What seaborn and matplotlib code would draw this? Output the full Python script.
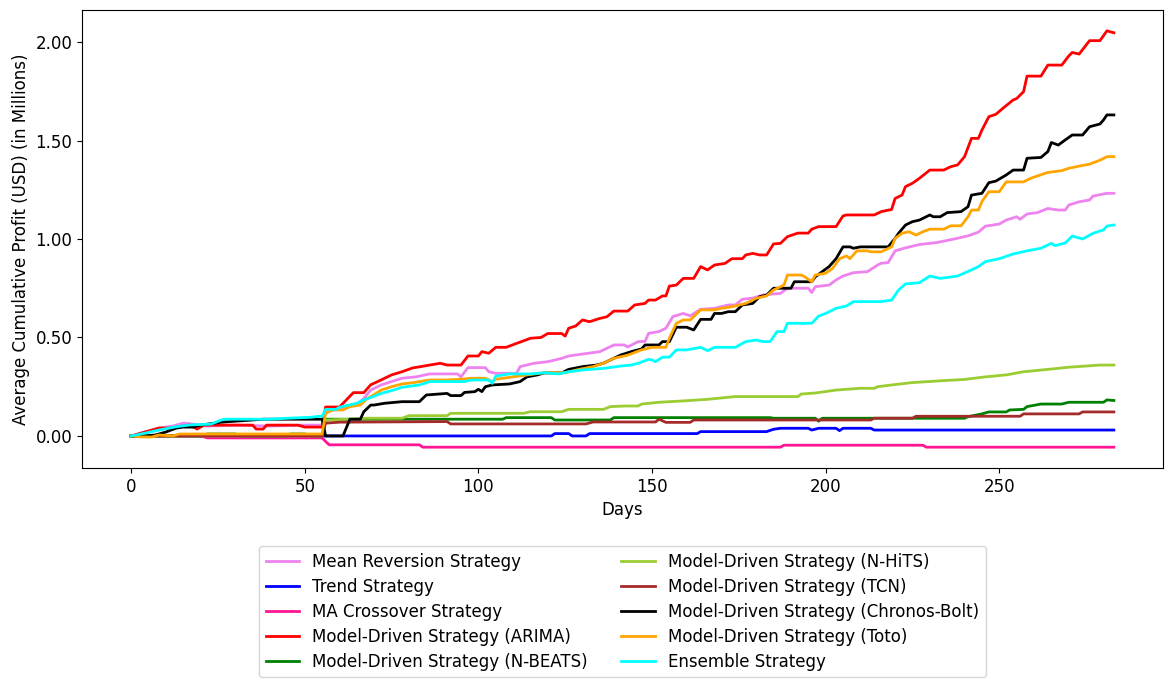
import matplotlib
matplotlib.use("Agg")
import matplotlib.pyplot as plt
import seaborn as sns
import pandas as pd
from matplotlib.ticker import StrMethodFormatter

# ---------------- data ----------------
mean_rev_days = [0, 4, 8, 12, 15, 18, 22, 30, 40, 50, 55, 56, 60, 65, 67, 69, 72, 75, 78, 82, 86, 94, 95, 97, 102, 103, 105, 111, 112, 116, 120, 124, 126, 130, 135, 139, 142, 143, 146, 148, 149, 152, 154, 156, 159, 161, 164, 168, 172, 174, 176, 179, 182, 185, 187, 189, 195, 196, 197, 201, 203, 205, 208, 212, 215, 216, 218, 220, 223, 227, 232, 237, 241, 244, 246, 250, 252, 255, 256, 258, 261, 264, 267, 269, 270, 273, 276, 277, 281, 283]
mean_rev_vals = [0, 0.02, 0.04, 0.05, 0.065, 0.06, 0.05, 0.055, 0.05, 0.055, 0.055, 0.12, 0.14, 0.16, 0.19, 0.233, 0.259, 0.276, 0.293, 0.30, 0.315, 0.315, 0.30, 0.347, 0.347, 0.326, 0.318, 0.318, 0.352, 0.369, 0.377, 0.394, 0.406, 0.416, 0.428, 0.462, 0.462, 0.452, 0.479, 0.48, 0.521, 0.53, 0.547, 0.606, 0.622, 0.61, 0.643, 0.648, 0.665, 0.665, 0.694, 0.70, 0.716, 0.721, 0.724, 0.75, 0.75, 0.728, 0.758, 0.766, 0.792, 0.812, 0.829, 0.834, 0.868, 0.877, 0.88, 0.94, 0.955, 0.972, 0.982, 1.0, 1.016, 1.035, 1.065, 1.076, 1.096, 1.113, 1.10, 1.127, 1.134, 1.155, 1.147, 1.147, 1.172, 1.189, 1.198, 1.218, 1.232, 1.232]

trend_days = [0, 121, 122, 126, 127, 131, 132, 163, 164, 183, 185, 187, 195, 196, 198, 203, 204, 205, 213, 214, 283]
trend_vals = [0, 0.0, 0.012, 0.012, 0.0, 0.0, 0.012, 0.012, 0.022, 0.022, 0.034, 0.039, 0.039, 0.03, 0.039, 0.039, 0.027, 0.039, 0.039, 0.03, 0.03]

ma_days = [0, 20, 22, 55, 57, 83, 84, 187, 188, 228, 229, 283]
ma_vals = [0, 0.0, -0.01, -0.01, -0.045, -0.045, -0.057, -0.057, -0.047, -0.047, -0.057, -0.057]

arima_days = [0, 4, 8, 11, 17, 19, 21, 35, 36, 38, 39, 48, 50, 55, 56, 60, 64, 67, 69, 71, 73, 75, 78, 81, 86, 89, 91, 95, 97, 100, 101, 103, 105, 108, 111, 115, 118, 120, 124, 125, 126, 128, 130, 132, 135, 137, 139, 143, 145, 148, 149, 151, 153, 154, 155, 157, 159, 162, 164, 166, 168, 171, 173, 176, 177, 179, 181, 183, 185, 187, 189, 192, 195, 196, 198, 203, 205, 206, 214, 216, 219, 220, 222, 223, 225, 227, 230, 234, 236, 238, 240, 242, 244, 245, 247, 249, 251, 254, 255, 257, 258, 262, 264, 268, 270, 271, 273, 276, 279, 281, 283]
arima_vals = [0, 0.02, 0.04, 0.04, 0.056, 0.035, 0.055, 0.055, 0.035, 0.035, 0.055, 0.055, 0.045, 0.045, 0.147, 0.147, 0.22, 0.22, 0.26, 0.276, 0.293, 0.31, 0.326, 0.345, 0.36, 0.369, 0.36, 0.36, 0.406, 0.406, 0.428, 0.42, 0.45, 0.45, 0.47, 0.496, 0.50, 0.52, 0.52, 0.507, 0.547, 0.558, 0.589, 0.58, 0.597, 0.605, 0.634, 0.634, 0.665, 0.673, 0.69, 0.69, 0.711, 0.711, 0.761, 0.766, 0.80, 0.80, 0.86, 0.843, 0.868, 0.876, 0.90, 0.90, 0.919, 0.927, 0.919, 0.919, 0.975, 0.978, 1.012, 1.03, 1.03, 1.05, 1.063, 1.063, 1.117, 1.122, 1.122, 1.139, 1.15, 1.206, 1.223, 1.266, 1.283, 1.308, 1.35, 1.35, 1.367, 1.376, 1.418, 1.511, 1.511, 1.553, 1.621, 1.633, 1.663, 1.706, 1.713, 1.748, 1.827, 1.827, 1.883, 1.883, 1.929, 1.947, 1.939, 2.007, 2.007, 2.057, 2.047]

nbeats_days = [0, 20, 22, 30, 32, 44, 46, 50, 52, 55, 56, 107, 108, 121, 122, 138, 139, 184, 185, 197, 198, 199, 240, 241, 245, 247, 252, 253, 257, 258, 262, 268, 270, 280, 281, 283]
nbeats_vals = [0, 0.0, 0.01, 0.01, 0.0, 0.0, 0.01, 0.01, 0.0, 0.0, 0.085, 0.085, 0.093, 0.093, 0.081, 0.081, 0.093, 0.093, 0.09, 0.09, 0.075, 0.09, 0.09, 0.098, 0.112, 0.122, 0.122, 0.132, 0.135, 0.149, 0.162, 0.162, 0.171, 0.171, 0.183, 0.18]

nhits_days = [0, 55, 56, 68, 78, 80, 91, 92, 113, 115, 124, 126, 136, 138, 142, 146, 147, 152, 160, 166, 174, 192, 193, 197, 203, 210, 214, 215, 219, 225, 234, 240, 246, 252, 257, 264, 270, 279, 283]
nhits_vals = [0, 0.0, 0.08, 0.09, 0.09, 0.103, 0.103, 0.115, 0.115, 0.123, 0.123, 0.135, 0.135, 0.149, 0.152, 0.152, 0.162, 0.171, 0.179, 0.186, 0.20, 0.20, 0.213, 0.218, 0.233, 0.242, 0.242, 0.25, 0.259, 0.271, 0.281, 0.287, 0.30, 0.31, 0.326, 0.338, 0.349, 0.36, 0.36]

tcn_days = [0, 55, 56, 60, 91, 92, 131, 133, 151, 152, 154, 161, 162, 213, 214, 225, 226, 256, 257, 273, 274, 283]
tcn_vals = [0, 0.0, 0.065, 0.07, 0.073, 0.061, 0.061, 0.071, 0.071, 0.085, 0.069, 0.069, 0.081, 0.081, 0.09, 0.09, 0.10, 0.10, 0.112, 0.112, 0.122, 0.122]

chronos_days = [0, 4, 7, 10, 13, 15, 18, 20, 26, 30, 38, 55, 56, 61, 63, 66, 67, 69, 70, 73, 78, 83, 85, 91, 92, 95, 96, 99, 100, 101, 102, 104, 109, 112, 114, 117, 119, 124, 126, 130, 134, 136, 138, 141, 144, 147, 148, 152, 153, 155, 157, 160, 162, 164, 167, 168, 170, 172, 174, 176, 179, 181, 183, 185, 190, 191, 196, 197, 199, 201, 203, 205, 207, 208, 210, 218, 220, 221, 223, 225, 227, 230, 231, 233, 235, 239, 241, 242, 245, 247, 249, 252, 254, 257, 258, 262, 264, 265, 267, 269, 271, 274, 276, 279, 280, 281, 283]
chronos_vals = [0, 0.0, 0.005, 0.02, 0.04, 0.045, 0.045, 0.055, 0.07, 0.075, 0.085, 0.085, 0.0, 0.0, 0.085, 0.085, 0.123, 0.157, 0.157, 0.166, 0.174, 0.174, 0.208, 0.216, 0.205, 0.205, 0.221, 0.225, 0.237, 0.225, 0.25, 0.259, 0.264, 0.276, 0.30, 0.31, 0.32, 0.32, 0.338, 0.352, 0.36, 0.369, 0.386, 0.411, 0.428, 0.442, 0.462, 0.462, 0.479, 0.479, 0.552, 0.552, 0.538, 0.592, 0.592, 0.622, 0.622, 0.631, 0.631, 0.665, 0.673, 0.707, 0.715, 0.75, 0.75, 0.783, 0.783, 0.808, 0.834, 0.86, 0.90, 0.96, 0.96, 0.953, 0.96, 0.96, 1.003, 1.029, 1.071, 1.088, 1.096, 1.122, 1.113, 1.113, 1.134, 1.139, 1.164, 1.223, 1.232, 1.286, 1.294, 1.325, 1.35, 1.35, 1.41, 1.414, 1.444, 1.49, 1.477, 1.503, 1.528, 1.528, 1.57, 1.584, 1.604, 1.63, 1.63]

toto_days = [0, 3, 6, 8, 12, 14, 20, 55, 56, 58, 61, 63, 66, 68, 70, 72, 75, 78, 81, 86, 91, 95, 98, 102, 104, 105, 110, 114, 119, 125, 129, 133, 136, 139, 143, 147, 150, 154, 155, 157, 159, 161, 164, 168, 170, 173, 177, 180, 183, 185, 188, 189, 193, 194, 196, 197, 200, 202, 204, 206, 207, 209, 212, 213, 216, 219, 220, 222, 224, 226, 228, 230, 234, 236, 239, 241, 242, 244, 245, 247, 250, 252, 257, 259, 261, 264, 268, 270, 273, 276, 279, 281, 283]
toto_vals = [0, -0.005, -0.005, 0.005, 0.0, 0.01, 0.01, 0.01, 0.115, 0.132, 0.132, 0.149, 0.157, 0.19, 0.21, 0.233, 0.25, 0.264, 0.27, 0.284, 0.284, 0.288, 0.293, 0.293, 0.276, 0.288, 0.30, 0.31, 0.321, 0.321, 0.338, 0.352, 0.369, 0.394, 0.41, 0.437, 0.45, 0.45, 0.496, 0.572, 0.589, 0.589, 0.64, 0.64, 0.648, 0.656, 0.673, 0.699, 0.711, 0.741, 0.766, 0.817, 0.817, 0.808, 0.783, 0.817, 0.826, 0.851, 0.90, 0.914, 0.90, 0.94, 0.94, 0.935, 0.935, 0.96, 1.003, 1.029, 1.037, 1.02, 1.037, 1.05, 1.05, 1.067, 1.067, 1.113, 1.147, 1.147, 1.19, 1.24, 1.24, 1.29, 1.29, 1.308, 1.32, 1.338, 1.347, 1.359, 1.37, 1.38, 1.40, 1.418, 1.418]

ensemble_days = [0, 4, 8, 13, 17, 23, 26, 27, 40, 45, 52, 54, 55, 56, 59, 60, 65, 67, 69, 72, 75, 78, 83, 86, 96, 98, 103, 104, 105, 109, 115, 119, 123, 126, 130, 136, 141, 144, 146, 149, 150, 151, 153, 155, 157, 160, 164, 166, 168, 174, 177, 180, 182, 184, 186, 188, 189, 196, 198, 200, 203, 206, 208, 216, 219, 221, 223, 227, 230, 233, 238, 242, 244, 246, 250, 254, 258, 262, 265, 266, 269, 271, 274, 277, 280, 281, 283]
ensemble_vals = [0, 0.014, 0.03, 0.047, 0.056, 0.06, 0.081, 0.085, 0.085, 0.09, 0.095, 0.10, 0.10, 0.135, 0.135, 0.146, 0.166, 0.183, 0.195, 0.216, 0.23, 0.247, 0.259, 0.276, 0.276, 0.284, 0.284, 0.267, 0.304, 0.315, 0.315, 0.321, 0.315, 0.326, 0.335, 0.343, 0.355, 0.36, 0.369, 0.389, 0.386, 0.377, 0.40, 0.40, 0.437, 0.437, 0.45, 0.433, 0.45, 0.45, 0.479, 0.487, 0.479, 0.479, 0.53, 0.53, 0.572, 0.572, 0.609, 0.622, 0.648, 0.66, 0.682, 0.682, 0.69, 0.741, 0.772, 0.778, 0.812, 0.80, 0.812, 0.843, 0.86, 0.885, 0.90, 0.924, 0.94, 0.953, 0.978, 0.966, 0.98, 1.015, 1.0, 1.029, 1.046, 1.066, 1.071]

strategy_names = [
    "Mean Reversion Strategy",
    "Trend Strategy",
    "MA Crossover Strategy",
    "Model-Driven Strategy (ARIMA)",
    "Model-Driven Strategy (N-BEATS)",
    "Model-Driven Strategy (N-HiTS)",
    "Model-Driven Strategy (TCN)",
    "Model-Driven Strategy (Chronos-Bolt)",
    "Model-Driven Strategy (Toto)",
    "Ensemble Strategy",
]
strategy_colors = ["violet", "blue", "deeppink", "red", "green",
                   "yellowgreen", "brown", "black", "orange", "cyan"]

series_days = [mean_rev_days, trend_days, ma_days, arima_days, nbeats_days,
               nhits_days, tcn_days, chronos_days, toto_days, ensemble_days]
series_vals = [mean_rev_vals, trend_vals, ma_vals, arima_vals, nbeats_vals,
               nhits_vals, tcn_vals, chronos_vals, toto_vals, ensemble_vals]

# ---------------- build long-form table ----------------
frames = []
for name, d, v in zip(strategy_names, series_days, series_vals):
    frames.append(pd.DataFrame({"Days": d, "Profit": v, "Strategy": name}))
df = pd.concat(frames, ignore_index=True)

# ---------------- plot ----------------
plt.rcParams["font.family"] = ["DejaVu Sans"]
plt.rcParams["font.size"] = 12

fig = plt.figure(figsize=(11.75, 6.85), dpi=100)
ax = fig.add_axes([82 / 1175, 1 - 468 / 685, (1163 - 82) / 1175, (468 - 10) / 685])

sns.lineplot(data=df, x="Days", y="Profit", hue="Strategy",
             hue_order=strategy_names,
             palette=dict(zip(strategy_names, strategy_colors)),
             estimator=None, sort=True, linewidth=2, ax=ax)

ax.set_xlabel("Days", fontsize=12)
ax.set_ylabel("Average Cumulative Profit (USD) (in Millions)", fontsize=12)
ax.yaxis.set_major_formatter(StrMethodFormatter("{x:.2f}"))
ax.tick_params(labelsize=12)

sns.move_legend(ax, "upper center", bbox_to_anchor=(0.5, -0.17),
                ncol=2, title=None, frameon=True, borderaxespad=0,
                fontsize=12, labelspacing=0.42)

fig.savefig("out.png", dpi=100)
